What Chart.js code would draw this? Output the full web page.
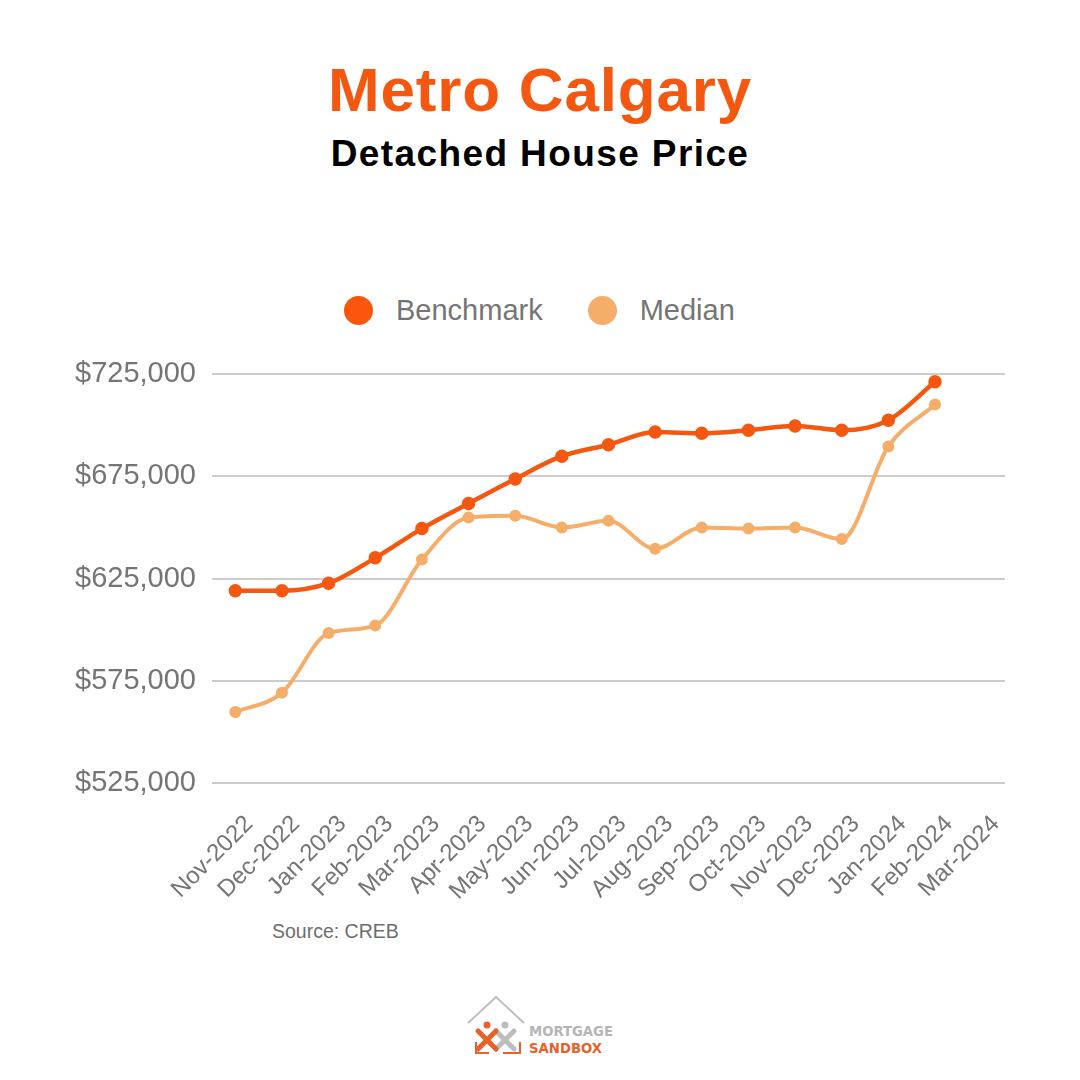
<!DOCTYPE html>
<html>
<head>
<meta charset="utf-8">
<script src="https://cdn.jsdelivr.net/npm/chart.js@4.4.1/dist/chart.umd.min.js"></script>
<style>
    html, body { margin: 0; padding: 0; background: #fff; }
    body { width: 1080px; height: 1080px; position: relative; overflow: hidden; font-family: Arial, "Liberation Sans", sans-serif; }
    .title { position: absolute; left: 0; width: 1080px; text-align: center; font-weight: bold; line-height: 1; white-space: nowrap; }
    #mainTitle { top: 59px; font-size: 62px; color: #f4570f; letter-spacing: 0.8px; }
    #subTitle { top: 135px; font-size: 37px; color: #000; letter-spacing: 1.4px; }
    .legend { position: absolute; top: 296px; left: 344px; display: flex; align-items: center; font-size: 29px; color: #757575; line-height: 1; }
    .legend .dot { width: 29px; height: 29px; border-radius: 50%; margin-right: 23px; }
    .legend .label { margin-right: 45px; }
    #chartBox { position: absolute; top: 340px; left: 0; width: 1080px; height: 560px; }
    #source { position: absolute; left: 272px; top: 920px; font-size: 19.5px; color: #6e6e6e; }
    #logo { position: absolute; left: 462px; top: 990px; }
</style>
</head>
<body>
<div id="mainTitle" class="title">Metro Calgary</div>
<div id="subTitle" class="title">Detached House Price</div>

<div class="legend">
    <span class="dot" style="background:#fa560c"></span><span class="label">Benchmark</span>
    <span class="dot" style="background:#f5ad6a"></span><span class="label">Median</span>
</div>

<div id="chartBox"><canvas id="priceChart"></canvas></div>

<div id="source">Source: CREB</div>

<svg id="logo" width="160" height="80" viewBox="0 0 160 80">
    <!-- casa -->
    <polyline points="6,33 34,7 62,33" fill="none" stroke="#bdbdbd" stroke-width="2"/>
    <polyline points="14,52 14,63 27,63" fill="none" stroke="#e8602a" stroke-width="2"/>
    <polyline points="41,63 58,63 58,52" fill="none" stroke="#e8602a" stroke-width="2"/>
    <!-- bonecos -->
    <circle cx="43" cy="35" r="3.5" fill="#bdbdbd"/>
    <path d="M34,41 L52,59 M52,41 L34,59" stroke="#bdbdbd" stroke-width="5" stroke-linecap="round"/>
    <circle cx="25" cy="35" r="3.5" fill="#e8602a"/>
    <path d="M16,41 L34,59 M34,41 L16,59" stroke="#e8602a" stroke-width="5" stroke-linecap="round"/>
    <text x="67" y="46" font-family="'DejaVu Sans Condensed', 'Liberation Sans Narrow', Arial, sans-serif" font-size="14" font-weight="bold" fill="#b5b5b5" textLength="84" lengthAdjust="spacingAndGlyphs">MORTGAGE</text>
    <text x="67" y="63" font-family="'DejaVu Sans Condensed', 'Liberation Sans Narrow', Arial, sans-serif" font-size="14" font-weight="bold" fill="#e8602a" textLength="73" lengthAdjust="spacingAndGlyphs">SANDBOX</text>
</svg>

<script>
// Dados
const months = ['Nov-2022', 'Dec-2022', 'Jan-2023', 'Feb-2023', 'Mar-2023', 'Apr-2023', 'May-2023', 'Jun-2023',
    'Jul-2023', 'Aug-2023', 'Sep-2023', 'Oct-2023', 'Nov-2023', 'Dec-2023', 'Jan-2024', 'Feb-2024', 'Mar-2024'];
const benchmark = [619000, 619000, 622700, 635100, 649400, 661700, 673700, 684800,
    690400, 696600, 696000, 697500, 699600, 697500, 702400, 721200, null];
const median = [559700, 569100, 598300, 602000, 634300, 654800, 655700, 649900,
    653200, 639600, 649900, 649400, 649900, 644300, 689600, 710100, null];
const yMin = 525000;
const yMax = 725000;
const yStep = 50000;

const BENCH_COLOR = '#f4570f';
const MEDIAN_COLOR = '#f5ad6a';
const TICK_COLOR = '#757575';
const FONT = 'Arial, "Liberation Sans", sans-serif';

const ctx = document.getElementById('priceChart');
new Chart(ctx, {
    type: 'line',
    data: {
        labels: months,
        datasets: [
            {
                label: 'Benchmark',
                data: benchmark,
                borderColor: BENCH_COLOR,
                backgroundColor: BENCH_COLOR,
                borderWidth: 4.5,
                pointRadius: 4.5,
                pointHoverRadius: 4.5,
                tension: 0.4,
                cubicInterpolationMode: 'monotone'
            },
            {
                label: 'Median',
                data: median,
                borderColor: MEDIAN_COLOR,
                backgroundColor: MEDIAN_COLOR,
                borderWidth: 4,
                pointRadius: 4,
                pointHoverRadius: 4,
                tension: 0.4,
                cubicInterpolationMode: 'monotone'
            }
        ]
    },
    options: {
        responsive: true,
        maintainAspectRatio: false,
        animation: false,
        layout: { padding: { top: 34, right: 75, left: 0, bottom: 0 } },
        plugins: {
            legend: { display: false },
            tooltip: { enabled: false }
        },
        scales: {
            x: {
                offset: true,
                afterFit: (axis) => { axis.height = 117; },
                grid: { display: false, drawTicks: false },
                border: { display: false },
                ticks: {
                    autoSkip: false,
                    minRotation: 45,
                    maxRotation: 45,
                    labelOffset: 14,
                    padding: 27,
                    color: TICK_COLOR,
                    font: { family: FONT, size: 24 }
                }
            },
            y: {
                min: yMin,
                max: yMax,
                afterFit: (axis) => { axis.width = 212; },
                grid: { color: '#cccccc', lineWidth: 2, drawTicks: false },
                border: { display: false },
                ticks: {
                    stepSize: yStep,
                    padding: 16,
                    color: TICK_COLOR,
                    font: { family: FONT, size: 29 },
                    callback: (v) => '$' + v.toLocaleString('en-US')
                }
            }
        }
    }
});
</script>
</body>
</html>
